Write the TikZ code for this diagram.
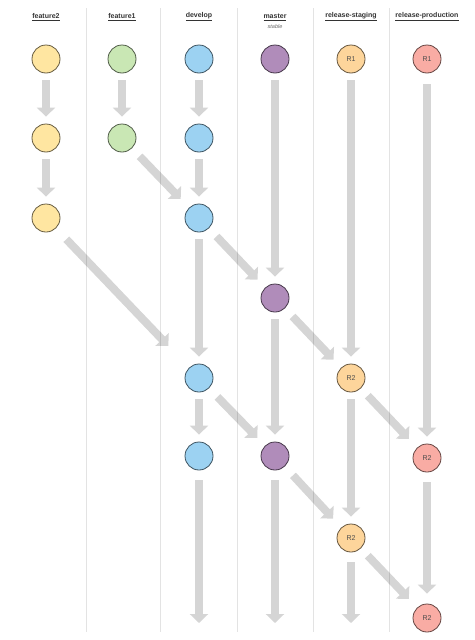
\documentclass[tikz,border=0pt]{standalone}
\usepackage{fontspec}
\setmainfont{Liberation Sans}
\usetikzlibrary{arrows.meta}

\definecolor{featyellow}{HTML}{FFE6A1}
\definecolor{featgreen}{HTML}{C9E7B4}
\definecolor{devblue}{HTML}{9CD2F2}
\definecolor{masterpurple}{HTML}{B08CBA}
\definecolor{stagingorange}{HTML}{FDD59B}
\definecolor{prodpink}{HTML}{F9ACA4}
\definecolor{flowgray}{HTML}{D5D5D5}

\begin{document}
\begin{tikzpicture}[x=1pt, y=-1pt,
		commit/.style={circle, draw, line width=0.8pt, minimum size=28pt, inner sep=0pt,
			font=\fontsize{7}{8}\selectfont, text=black!70},
		flow/.style={draw=flowgray, line width=8pt, -{Triangle[width=18pt,length=9pt]},
			shorten <=7pt, shorten >=7pt},
		lane/.style={draw=black, opacity=0.11, line width=0.8pt},
		heading/.style={font=\fontsize{7}{8}\selectfont\bfseries, text=black!80}]
		
		\useasboundingbox (0,0) rectangle (474,640);
		
		% Labels
		\node[heading] (h1) at (46, 17) {\underline{feature2}};
		\node[heading] (h2) at (122, 17) {\underline{feature1}};
		\node[heading] (h3) at (199, 17) {\underline{develop}};
		\node[heading] (h4) at (275, 17) {\underline{master}};
		\node[font=\fontsize{5.5}{6}\selectfont\itshape, text=black!60] (h4s) at (275, 26.5) {stable};
		\node[heading] (h5) at (351, 17) {\underline{release-staging}};
		\node[heading] (h6) at (427, 17) {\underline{release-production}};
		
		% feature2 commits
		\node[commit, fill=featyellow, draw=featyellow!40!black] (f2a) at (46, 59) {};
		\node[commit, fill=featyellow, draw=featyellow!40!black] (f2b) at (46, 138) {};
		\node[commit, fill=featyellow, draw=featyellow!40!black] (f2c) at (46, 218) {};
		
		% feature1 commits
		\node[commit, fill=featgreen, draw=featgreen!40!black] (f1a) at (122, 59) {};
		\node[commit, fill=featgreen, draw=featgreen!40!black] (f1b) at (122, 138) {};
		
		% develop commits
		\node[commit, fill=devblue, draw=devblue!40!black] (dva) at (199, 59) {};
		\node[commit, fill=devblue, draw=devblue!40!black] (dvb) at (199, 138) {};
		\node[commit, fill=devblue, draw=devblue!40!black] (dvc) at (199, 218) {};
		\node[commit, fill=devblue, draw=devblue!40!black] (dvd) at (199, 378) {};
		\node[commit, fill=devblue, draw=devblue!40!black] (dve) at (199, 456) {};
		\coordinate (dvend) at (199, 623);
		
		% master commits
		\node[commit, fill=masterpurple, draw=masterpurple!40!black] (msa) at (275, 59) {};
		\node[commit, fill=masterpurple, draw=masterpurple!40!black] (msb) at (275, 298) {};
		\node[commit, fill=masterpurple, draw=masterpurple!40!black] (msc) at (275, 456) {};
		\coordinate (msend) at (275, 623);
		
		% release-staging commits
		\node[commit, fill=stagingorange, draw=stagingorange!40!black] (rsa) at (351, 59) {R1};
		\node[commit, fill=stagingorange, draw=stagingorange!40!black] (rsb) at (351, 378) {R2};
		\node[commit, fill=stagingorange, draw=stagingorange!40!black] (rsc) at (351, 538) {R2};
		\coordinate (rsend) at (351, 623);
		
		% release-production commits
		\node[commit, fill=prodpink, draw=prodpink!40!black] (rpa) at (427, 59) {R1};
		\node[commit, fill=prodpink, draw=prodpink!40!black] (rpb) at (427, 458) {R2};
		\node[commit, fill=prodpink, draw=prodpink!40!black] (rpc) at (427, 618) {R2};
		
		% Arrows along each branch
		\draw[flow] (f2a) -- (f2b);
		\draw[flow] (f2b) -- (f2c);
		\draw[flow] (f1a) -- (f1b);
		\draw[flow] (dva) -- (dvb);
		\draw[flow] (dvb) -- (dvc);
		\draw[flow] (dvc) -- (dvd);
		\draw[flow] (dvd) -- (dve);
		\draw[flow, shorten >=0pt, shorten <=10pt] (dve) -- (dvend);
		\draw[flow] (msa) -- (msb);
		\draw[flow] (msb) -- (msc);
		\draw[flow, shorten >=0pt, shorten <=10pt] (msc) -- (msend);
		\draw[flow] (rsa) -- (rsb);
		\draw[flow] (rsb) -- (rsc);
		\draw[flow, shorten >=0pt, shorten <=10pt] (rsc) -- (rsend);
		\draw[flow, shorten <=11pt] (rpa) -- (rpb);
		\draw[flow, shorten <=10pt, shorten >=10pt] (rpb) -- (rpc);
		
		% Merges between branches
		\draw[flow, shorten <=11pt, shorten >=12pt] (f1b) -- (dvc);
		\draw[flow, shorten <=15pt, shorten >=30pt] (f2c) -- (dvd);
		\draw[flow, shorten <=11pt, shorten >=11pt] (dvc) -- (msb);
		\draw[flow, shorten <=11pt, shorten >=11pt] (msb) -- (rsb);
		\draw[flow, shorten <=12pt, shorten >=11pt] (dvd) -- (msc);
		\draw[flow, shorten <=10pt, shorten >=12pt] (rsb) -- (rpb);
		\draw[flow, shorten <=12pt, shorten >=12pt] (msc) -- (rsc);
		\draw[flow, shorten <=10pt, shorten >=12pt] (rsc) -- (rpc);
		
		% Lane separators
		\coordinate (s1a) at (86, 8);   \coordinate (s1b) at (86, 632);
		\coordinate (s2a) at (160, 8);  \coordinate (s2b) at (160, 632);
		\coordinate (s3a) at (237, 8);  \coordinate (s3b) at (237, 632);
		\coordinate (s4a) at (313, 8);  \coordinate (s4b) at (313, 632);
		\coordinate (s5a) at (389, 8);  \coordinate (s5b) at (389, 632);
		\draw[lane] (s1a) -- (s1b);
		\draw[lane] (s2a) -- (s2b);
		\draw[lane] (s3a) -- (s3b);
		\draw[lane] (s4a) -- (s4b);
		\draw[lane] (s5a) -- (s5b);
	\end{tikzpicture}
\end{document}
